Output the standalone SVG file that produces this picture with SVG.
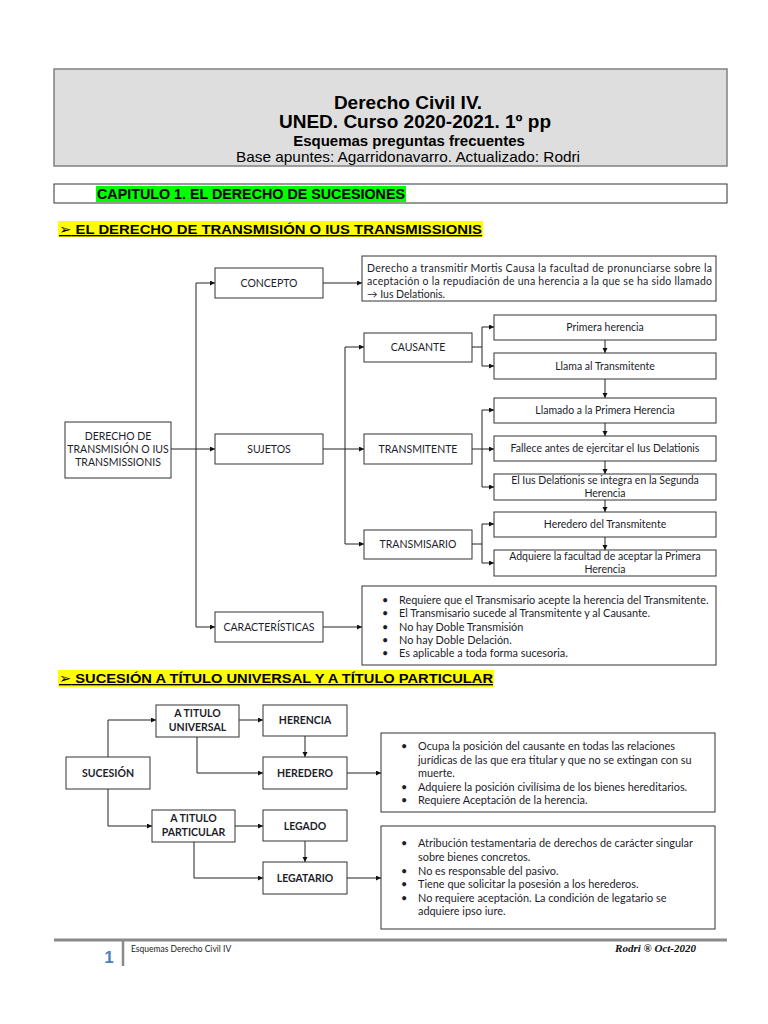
<svg xmlns="http://www.w3.org/2000/svg" width="768" height="1024" viewBox="0 0 768 1024">
<style>
.box{fill:#fff;stroke:#333;stroke-width:1}
.lbl{font-family:Lato,"Liberation Sans",sans-serif;font-size:10.5px;fill:#1d1d2b;text-anchor:middle}
.lblb{font-family:Lato,"Liberation Sans",sans-serif;font-size:10.5px;fill:#1d1d2b;text-anchor:middle;font-weight:bold}
.txt{font-family:Lato,"Liberation Sans",sans-serif;font-size:10.5px;fill:#1d1d2b}
.lst{font-family:Lato,"Liberation Sans",sans-serif;font-size:10.9px;fill:#1d1d2b}
.con{stroke:#222;stroke-width:1;fill:none}
.arr{marker-end:url(#ah)}
.hd{font-family:"Liberation Sans",Arial,sans-serif;fill:#000;text-anchor:middle}
.sec{font-family:"Liberation Sans",Arial,sans-serif;font-size:13.5px;font-weight:bold;fill:#000;text-decoration:underline}
</style>
<defs>
<marker id="ah" markerWidth="6" markerHeight="6" refX="5" refY="2.5" orient="auto" markerUnits="userSpaceOnUse">
<path d="M0,0 L5,2.5 L0,5 z" fill="#111"/>
</marker>
</defs>
<rect width="768" height="1024" fill="#fff"/>

<g id="header">
<rect x="54" y="69" width="673" height="97" fill="#dedede" stroke="#808080" stroke-width="1.5"/>
<text class="hd" x="408" y="109" font-size="19" font-weight="bold">Derecho Civil IV.</text>
<text class="hd" x="415" y="128" font-size="19" font-weight="bold">UNED. Curso 2020-2021. 1º pp</text>
<text class="hd" x="409" y="146" font-size="15" font-weight="bold">Esquemas preguntas frecuentes</text>
<text class="hd" x="408" y="162" font-size="15" textLength="344" lengthAdjust="spacingAndGlyphs">Base apuntes: Agarridonavarro. Actualizado: Rodri</text>
</g>

<g id="chapter">
<rect x="54" y="184" width="673" height="19" fill="#fff" stroke="#333" stroke-width="1"/>
<rect x="96" y="186" width="310" height="16" fill="#00ff00"/>
<text x="97" y="199" font-family="Liberation Sans,Arial,sans-serif" font-size="14" font-weight="bold" textLength="308" lengthAdjust="spacingAndGlyphs">CAPITULO 1. EL DERECHO DE SUCESIONES</text>
</g>

<g id="section1">
<rect x="58" y="221" width="425" height="16" fill="#ffff00"/>
<text class="sec" x="59" y="234" textLength="423" lengthAdjust="spacingAndGlyphs"><tspan font-family="DejaVu Sans,sans-serif">➢</tspan> EL DERECHO DE TRANSMISIÓN O IUS TRANSMISSIONIS</text>
</g>

<g id="connectors1">
<path class="con arr" d="M171,449 H215"/>
<path class="con arr" d="M196,449 V283 H215"/>
<path class="con arr" d="M196,449 V627 H215"/>
<path class="con arr" d="M323,283 H362"/>
<path class="con arr" d="M323,449 H364"/>
<path class="con arr" d="M345,449 V347 H364"/>
<path class="con arr" d="M345,449 V544 H364"/>
<path class="con" d="M472,347 H482"/>
<path class="con arr" d="M482,347 V327 H494"/>
<path class="con arr" d="M482,347 V366 H494"/>
<path class="con arr" d="M472,449 H494"/>
<path class="con arr" d="M482,449 V410 H494"/>
<path class="con arr" d="M482,449 V487 H494"/>
<path class="con" d="M472,544 H482"/>
<path class="con arr" d="M482,544 V524 H494"/>
<path class="con arr" d="M482,544 V563 H494"/>
<path class="con arr" d="M605,340 V353"/>
<path class="con arr" d="M605,379 V398"/>
<path class="con arr" d="M605,423 V436"/>
<path class="con arr" d="M605,461 V474"/>
<path class="con arr" d="M605,500 V512"/>
<path class="con arr" d="M605,537 V550"/>
<path class="con arr" d="M323,627 H362"/>
</g>

<g id="n-derecho">
<rect class="box" x="65" y="422" width="106" height="56"/>
<text class="lbl" x="118" y="440">DERECHO DE</text>
<text class="lbl" x="118" y="453">TRANSMISIÓN O IUS</text>
<text class="lbl" x="118" y="466">TRANSMISSIONIS</text>
</g>
<g id="n-concepto">
<rect class="box" x="215" y="268" width="108" height="30"/>
<text class="lbl" x="269" y="287">CONCEPTO</text>
</g>
<g id="n-concepto-def">
<rect class="box" x="362" y="256" width="354" height="45"/>
<text class="txt" x="367" y="272" textLength="345" lengthAdjust="spacing">Derecho a transmitir Mortis Causa la facultad de pronunciarse sobre la</text>
<text class="txt" x="367" y="285" textLength="345" lengthAdjust="spacing">aceptación o la repudiación de una herencia a la que se ha sido llamado</text>
<text class="txt" x="367" y="298">→ Ius Delationis.</text>
</g>
<g id="n-sujetos">
<rect class="box" x="215" y="434" width="108" height="30"/>
<text class="lbl" x="269" y="453">SUJETOS</text>
</g>
<g id="n-causante">
<rect class="box" x="364" y="333" width="108" height="29"/>
<text class="lbl" x="418" y="351">CAUSANTE</text>
</g>
<g id="n-transmitente">
<rect class="box" x="364" y="434" width="108" height="30"/>
<text class="lbl" x="418" y="453">TRANSMITENTE</text>
</g>
<g id="n-transmisario">
<rect class="box" x="364" y="530" width="108" height="29"/>
<text class="lbl" x="418" y="548">TRANSMISARIO</text>
</g>
<g id="n-primera">
<rect class="box" x="494" y="315" width="222" height="25"/>
<text class="lbl" x="605" y="331">Primera herencia</text>
</g>
<g id="n-llama">
<rect class="box" x="494" y="353" width="222" height="26"/>
<text class="lbl" x="605" y="370">Llama al Transmitente</text>
</g>
<g id="n-llamado">
<rect class="box" x="494" y="398" width="222" height="25"/>
<text class="lbl" x="605" y="414">Llamado a la Primera Herencia</text>
</g>
<g id="n-fallece">
<rect class="box" x="494" y="436" width="222" height="25"/>
<text class="lbl" x="605" y="452">Fallece antes de ejercitar el Ius Delationis</text>
</g>
<g id="n-integra">
<rect class="box" x="494" y="474" width="222" height="26"/>
<text class="lbl" x="605" y="484">El Ius Delationis se integra en la Segunda</text>
<text class="lbl" x="605" y="497">Herencia</text>
</g>
<g id="n-heredero-t">
<rect class="box" x="494" y="512" width="222" height="25"/>
<text class="lbl" x="605" y="528">Heredero del Transmitente</text>
</g>
<g id="n-adquiere">
<rect class="box" x="494" y="550" width="222" height="26"/>
<text class="lbl" x="605" y="560">Adquiere la facultad de aceptar la Primera</text>
<text class="lbl" x="605" y="573">Herencia</text>
</g>
<g id="n-caracteristicas">
<rect class="box" x="215" y="612" width="108" height="30"/>
<text class="lbl" x="269" y="631">CARACTERÍSTICAS</text>
</g>
<g id="n-caract-list">
<rect class="box" x="362" y="586" width="354" height="79"/>
<g class="lst">
<text x="382" y="604">•</text><text x="399" y="604">Requiere que el Transmisario acepte la herencia del Transmitente.</text>
<text x="382" y="617">•</text><text x="399" y="617">El Transmisario sucede al Transmitente y al Causante.</text>
<text x="382" y="631">•</text><text x="399" y="631">No hay Doble Transmisión</text>
<text x="382" y="644">•</text><text x="399" y="644">No hay Doble Delación.</text>
<text x="382" y="657">•</text><text x="399" y="657">Es aplicable a toda forma sucesoria.</text>
</g>
</g>

<g id="section2">
<rect x="58" y="670" width="436" height="17" fill="#ffff00"/>
<text class="sec" x="59" y="683" textLength="434" lengthAdjust="spacingAndGlyphs"><tspan font-family="DejaVu Sans,sans-serif">➢</tspan> SUCESIÓN A TÍTULO UNIVERSAL Y A TÍTULO PARTICULAR</text>
</g>

<g id="connectors2">
<path class="con arr" d="M108,757 V720 H156"/>
<path class="con arr" d="M108,789 V826 H152"/>
<path class="con arr" d="M239,720 H263"/>
<path class="con arr" d="M197,737 V773 H263"/>
<path class="con arr" d="M305,736 V757"/>
<path class="con arr" d="M347,773 H381"/>
<path class="con arr" d="M235,826 H263"/>
<path class="con arr" d="M194,842 V878 H263"/>
<path class="con arr" d="M305,841 V862"/>
<path class="con arr" d="M347,878 H381"/>
</g>

<g id="n-universal">
<rect class="box" x="156" y="705" width="83" height="32"/>
<text class="lblb" x="197.5" y="717">A TITULO</text>
<text class="lblb" x="197.5" y="731">UNIVERSAL</text>
</g>
<g id="n-herencia">
<rect class="box" x="263" y="705" width="84" height="31"/>
<text class="lblb" x="305" y="724">HERENCIA</text>
</g>
<g id="n-sucesion">
<rect class="box" x="66" y="757" width="84" height="32"/>
<text class="lblb" x="108" y="777">SUCESIÓN</text>
</g>
<g id="n-heredero">
<rect class="box" x="263" y="757" width="84" height="32"/>
<text class="lblb" x="305" y="777">HEREDERO</text>
</g>
<g id="n-particular">
<rect class="box" x="152" y="810" width="83" height="32"/>
<text class="lblb" x="193.5" y="822">A TITULO</text>
<text class="lblb" x="193.5" y="836">PARTICULAR</text>
</g>
<g id="n-legado">
<rect class="box" x="263" y="810" width="84" height="31"/>
<text class="lblb" x="305" y="830">LEGADO</text>
</g>
<g id="n-legatario">
<rect class="box" x="263" y="862" width="84" height="32"/>
<text class="lblb" x="305" y="882">LEGATARIO</text>
</g>
<g id="n-heredero-list">
<rect class="box" x="381" y="733" width="334" height="79"/>
<g class="lst">
<text x="401" y="750">•</text><text x="418" y="750">Ocupa la posición del causante en todas las relaciones</text>
<text x="418" y="764">jurídicas de las que era titular y que no se extingan con su</text>
<text x="418" y="777">muerte.</text>
<text x="401" y="791">•</text><text x="418" y="791">Adquiere la posición civilísima de los bienes hereditarios.</text>
<text x="401" y="804">•</text><text x="418" y="804">Requiere Aceptación de la herencia.</text>
</g>
</g>
<g id="n-legatario-list">
<rect class="box" x="381" y="826" width="334" height="103"/>
<g class="lst">
<text x="401" y="847">•</text><text x="418" y="847">Atribución testamentaria de derechos de carácter singular</text>
<text x="418" y="861">sobre bienes concretos.</text>
<text x="401" y="875">•</text><text x="418" y="875">No es responsable del pasivo.</text>
<text x="401" y="888">•</text><text x="418" y="888">Tiene que solicitar la posesión a los herederos.</text>
<text x="401" y="902">•</text><text x="418" y="902">No requiere aceptación. La condición de legatario se</text>
<text x="418" y="915">adquiere ipso iure.</text>
</g>
</g>

<g id="footer">
<line x1="54" y1="940" x2="727" y2="940" stroke="#8a8a8a" stroke-width="3"/>
<line x1="123" y1="940" x2="123" y2="966" stroke="#8a8a8a" stroke-width="2.5"/>
<text x="109" y="963" font-family="Liberation Sans,Arial,sans-serif" font-size="17" font-weight="bold" fill="#4f81bd" text-anchor="middle">1</text>
<text x="131" y="952" font-family="Lato,Liberation Sans,sans-serif" font-size="8.5" fill="#222">Esquemas Derecho Civil IV</text>
<text x="696" y="952" font-family="Liberation Serif,serif" font-size="11" font-style="italic" font-weight="bold" fill="#111" text-anchor="end">Rodri ® Oct-2020</text>
</g>
</svg>
